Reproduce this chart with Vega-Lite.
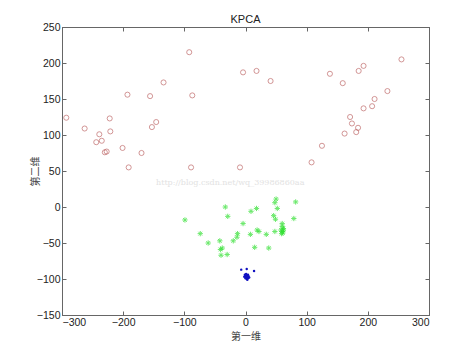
{
  "$schema": "https://vega.github.io/schema/vega-lite/v6.json",
  "width": 367,
  "height": 288,
  "autosize": {"type": "none"},
  "padding": {"left": 62, "top": 27, "right": 45, "bottom": 40},
  "background": "white",
  "title": {"text": "KPCA", "font": "Liberation Sans", "fontSize": 11, "fontWeight": "normal", "color": "#222", "offset": -3},
  "config": {
    "view": {"stroke": "#666", "strokeWidth": 1},
    "axis": {"grid": false, "domainColor": "#666", "tickColor": "#666", "tickSize": -4, "labelFont": "Liberation Sans", "labelFontSize": 10.5, "labelColor": "#222", "titleFont": "Noto Sans CJK SC", "titleFontSize": 10, "titleFontWeight": "normal", "titleColor": "#444"}
  },
  "datasets": {
    "pts": [
      {"x": -293, "y": 124, "g": "r"}, {"x": -263, "y": 109, "g": "r"}, {"x": -239, "y": 101, "g": "r"},
      {"x": -235, "y": 92, "g": "r"}, {"x": -244, "y": 90, "g": "r"}, {"x": -222, "y": 123, "g": "r"},
      {"x": -221, "y": 105, "g": "r"}, {"x": -230, "y": 76, "g": "r"}, {"x": -227, "y": 77, "g": "r"},
      {"x": -201, "y": 82, "g": "r"}, {"x": -193, "y": 156, "g": "r"}, {"x": -191, "y": 55, "g": "r"},
      {"x": -170, "y": 75, "g": "r"}, {"x": -156, "y": 154, "g": "r"}, {"x": -153, "y": 111, "g": "r"},
      {"x": -146, "y": 118, "g": "r"}, {"x": -134, "y": 173, "g": "r"}, {"x": -92, "y": 215, "g": "r"},
      {"x": -87, "y": 155, "g": "r"}, {"x": -89, "y": 55, "g": "r"}, {"x": -9, "y": 55, "g": "r"},
      {"x": -4, "y": 187, "g": "r"}, {"x": 18, "y": 189, "g": "r"}, {"x": 41, "y": 175, "g": "r"},
      {"x": 108, "y": 62, "g": "r"}, {"x": 125, "y": 85, "g": "r"}, {"x": 138, "y": 185, "g": "r"},
      {"x": 159, "y": 172, "g": "r"}, {"x": 171, "y": 125, "g": "r"}, {"x": 174, "y": 116, "g": "r"},
      {"x": 162, "y": 102, "g": "r"}, {"x": 181, "y": 104, "g": "r"}, {"x": 184, "y": 110, "g": "r"},
      {"x": 185, "y": 189, "g": "r"}, {"x": 193, "y": 196, "g": "r"}, {"x": 193, "y": 137, "g": "r"},
      {"x": 207, "y": 140, "g": "r"}, {"x": 211, "y": 150, "g": "r"}, {"x": 232, "y": 161, "g": "r"},
      {"x": 255, "y": 205, "g": "r"},
      {"x": -99, "y": -18, "g": "gr"}, {"x": -33, "y": 0, "g": "gr"}, {"x": -29, "y": -13, "g": "gr"},
      {"x": -74, "y": -37, "g": "gr"}, {"x": -61, "y": -50, "g": "gr"}, {"x": -42, "y": -47, "g": "gr"},
      {"x": -38, "y": -57, "g": "gr"}, {"x": -41, "y": -59, "g": "gr"}, {"x": -40, "y": -67, "g": "gr"},
      {"x": -30, "y": -66, "g": "gr"}, {"x": -20, "y": -47, "g": "gr"}, {"x": -14, "y": -42, "g": "gr"},
      {"x": -13, "y": -37, "g": "gr"}, {"x": -4, "y": -23, "g": "gr"}, {"x": 8, "y": -38, "g": "gr"},
      {"x": 9, "y": -6, "g": "gr"}, {"x": 18, "y": -2, "g": "gr"}, {"x": 15, "y": -56, "g": "gr"},
      {"x": 19, "y": -32, "g": "gr"}, {"x": 22, "y": -34, "g": "gr"}, {"x": 34, "y": -38, "g": "gr"},
      {"x": 38, "y": -57, "g": "gr"}, {"x": 48, "y": -34, "g": "gr"}, {"x": 50, "y": 11, "g": "gr"},
      {"x": 48, "y": 6, "g": "gr"}, {"x": 52, "y": -2, "g": "gr"}, {"x": 46, "y": -12, "g": "gr"},
      {"x": 49, "y": -17, "g": "gr"}, {"x": 60, "y": -23, "g": "gr"}, {"x": 60, "y": -27, "g": "gr"},
      {"x": 60, "y": -34, "g": "gr"}, {"x": 58, "y": -32, "g": "gr"}, {"x": 62, "y": -32, "g": "gr"},
      {"x": 61, "y": -36, "g": "gr"}, {"x": 59, "y": -37, "g": "gr"}, {"x": 62, "y": -30, "g": "gr"},
      {"x": 82, "y": 7, "g": "gr"}, {"x": 79, "y": -16, "g": "gr"},
      {"x": -7, "y": -87, "g": "b"}, {"x": 2, "y": -86, "g": "b"}, {"x": 14, "y": -89, "g": "b"},
      {"x": -1, "y": -94, "g": "b"}, {"x": 0, "y": -96, "g": "b"}, {"x": 2, "y": -95, "g": "b"},
      {"x": 4, "y": -94, "g": "b"}, {"x": 1, "y": -98, "g": "b"}, {"x": 3, "y": -97, "g": "b"},
      {"x": 5, "y": -96, "g": "b"}, {"x": -2, "y": -97, "g": "b"}, {"x": 2, "y": -100, "g": "b"},
      {"x": 4, "y": -99, "g": "b"}, {"x": 6, "y": -98, "g": "b"}, {"x": 0, "y": -99, "g": "b"},
      {"x": 3, "y": -101, "g": "b"}, {"x": 1, "y": -93, "g": "b"}
    ],
    "wm": [{"x": -25, "y": 34, "t": "http://blog.csdn.net/wq_39986860aa"}]
  },
  "layer": [
    {
      "data": {"name": "wm"},
      "mark": {"type": "text", "font": "DejaVu Serif", "fontSize": 8, "color": "#e2e2e2"},
      "encoding": {
        "x": {"field": "x", "type": "quantitative", "scale": {"domain": [-300, 300], "nice": false}, "axis": {"orient": "bottom", "values": [-300, -200, -100, 0, 100, 200, 300], "title": "第一维", "labelPadding": 6, "titlePadding": 4}},
        "y": {"field": "y", "type": "quantitative", "scale": {"domain": [-150, 250], "nice": false}, "axis": {"orient": "left", "values": [-150, -100, -50, 0, 50, 100, 150, 200, 250], "title": "第二维", "labelPadding": 6, "titleX": -27, "titleY": 144, "titleAlign": "center", "titleBaseline": "middle", "titleAngle": -90}},
        "text": {"field": "t"}
      }
    },
    {
      "data": {"name": "pts"},
      "transform": [{"filter": "datum.g == 'r'"}],
      "mark": {"type": "point", "shape": "circle", "filled": false, "stroke": "#b04545", "strokeWidth": 0.8, "size": 26},
      "encoding": {
        "x": {"field": "x", "type": "quantitative", "axis": {"orient": "top", "values": [-300, -200, -100, 0, 100, 200, 300], "labels": false, "title": null}},
        "y": {"field": "y", "type": "quantitative", "axis": {"orient": "right", "values": [-150, -100, -50, 0, 50, 100, 150, 200, 250], "labels": false, "title": null}}
      }
    },
    {
      "data": {"name": "pts"},
      "transform": [{"filter": "datum.g == 'gr'"}],
      "mark": {"type": "point", "shape": "M-1,0L1,0M0,-1L0,1M-0.7,-0.7L0.7,0.7M-0.7,0.7L0.7,-0.7", "filled": false, "stroke": "#2ee02e", "strokeWidth": 1, "size": 28},
      "encoding": {
        "x": {"field": "x", "type": "quantitative", "axis": null},
        "y": {"field": "y", "type": "quantitative", "axis": null}
      }
    },
    {
      "data": {"name": "pts"},
      "transform": [{"filter": "datum.g == 'b'"}],
      "mark": {"type": "point", "shape": "circle", "filled": true, "fill": "#1010c0", "opacity": 1, "size": 6},
      "encoding": {
        "x": {"field": "x", "type": "quantitative", "axis": null},
        "y": {"field": "y", "type": "quantitative", "axis": null}
      }
    }
  ],
  "resolve": {"axis": {"x": "independent", "y": "independent"}}
}
